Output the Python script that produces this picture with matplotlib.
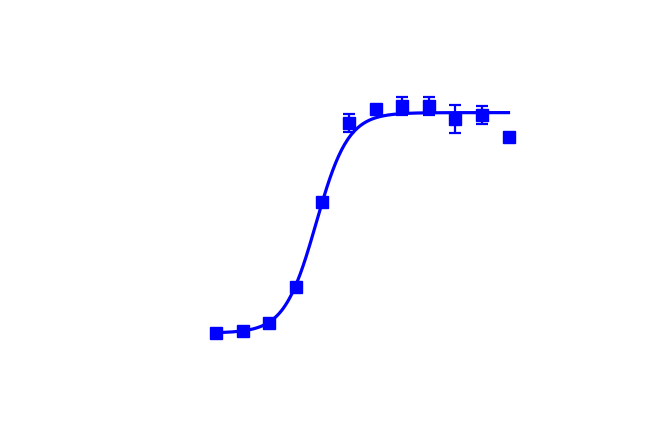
import numpy as np
import matplotlib
matplotlib.use("Agg")
import matplotlib.pyplot as plt

# log10 concentration (half-log dilution series) and % response
log_conc = [-10.0, -9.5, -9.0, -8.5, -8.0, -7.5, -7.0, -6.5, -6.0, -5.5, -5.0, -4.5]
response = [0.0, 0.9, 4.7, 20.8, 59.7, 95.5, 102.0, 103.2, 103.4, 97.3, 99.1, 89.1]
resp_err = [0.0, 0.0, 0.0, 0.0, 0.0, 4.3, 0.0, 4.2, 4.1, 6.4, 3.9, 0.0]

# fitted 4PL parameters
bottom = 0.0
top = 100.2
log_ec50 = -8.115
hill = 1.45

blue = "#0000ff"

fig = plt.figure(figsize=(6.5, 4.33), dpi=100)
ax = fig.add_axes([0, 0, 1, 1])

xfit = np.linspace(log_conc[0] - 0.05, log_conc[-1], 300)
yfit = bottom + (top - bottom) / (1 + 10 ** ((log_ec50 - xfit) * hill))
ax.plot(xfit, yfit, color=blue, linewidth=2.3, zorder=2)

ax.errorbar(log_conc, response, yerr=resp_err, fmt="s", color=blue,
            markersize=9, elinewidth=1.6, capsize=4.2, capthick=1.6, zorder=3)

ax.set_xlim(-14.06, -1.84)
ax.set_ylim(-45.45, 151.4)
ax.axis("off")

fig.savefig("out.png", dpi=100)
